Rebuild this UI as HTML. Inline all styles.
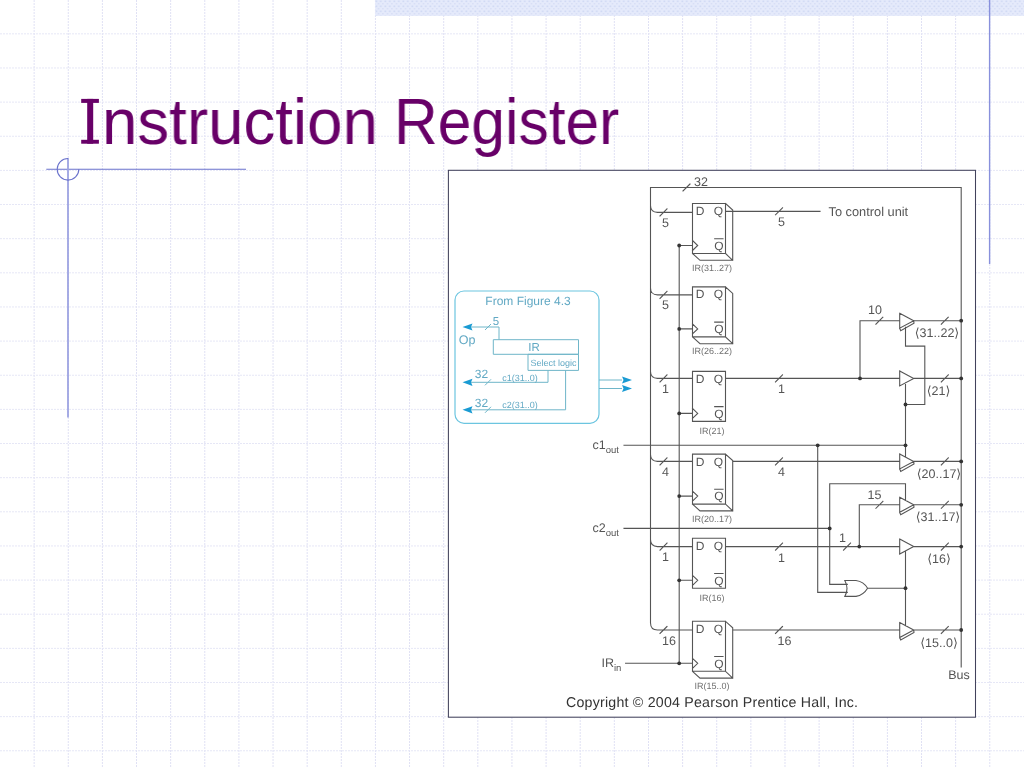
<!DOCTYPE html>
<html><head><meta charset="utf-8"><style>
html,body{margin:0;padding:0;background:#fff;width:1024px;height:768px;overflow:hidden}
svg{position:absolute;left:0;top:0;will-change:transform;text-rendering:geometricPrecision}
.title{will-change:transform}
.title{position:absolute;left:75px;top:90px;font-family:"Liberation Sans",sans-serif;font-size:64px;color:#680068;white-space:nowrap;line-height:1;transform-origin:0 0}
</style></head><body>
<svg width="1024" height="768" viewBox="0 0 1024 768" font-family="Liberation Sans, sans-serif">
<g stroke-width="1" stroke-dasharray="2 1"><line x1="34.13" y1="0" x2="34.13" y2="768" stroke="#e0e1f4"/><line x1="68.26" y1="0" x2="68.26" y2="768" stroke="#e0e1f4"/><line x1="102.39" y1="0" x2="102.39" y2="768" stroke="#e0e1f4"/><line x1="136.52" y1="0" x2="136.52" y2="768" stroke="#e0e1f4"/><line x1="170.65" y1="0" x2="170.65" y2="768" stroke="#e0e1f4"/><line x1="204.78" y1="0" x2="204.78" y2="768" stroke="#e0e1f4"/><line x1="238.91" y1="0" x2="238.91" y2="768" stroke="#e0e1f4"/><line x1="273.04" y1="0" x2="273.04" y2="768" stroke="#e0e1f4"/><line x1="307.17" y1="0" x2="307.17" y2="768" stroke="#e0e1f4"/><line x1="341.3" y1="0" x2="341.3" y2="768" stroke="#e0e1f4"/><line x1="375.43" y1="0" x2="375.43" y2="768" stroke="#e0e1f4"/><line x1="409.56" y1="0" x2="409.56" y2="768" stroke="#e0e1f4"/><line x1="443.69" y1="0" x2="443.69" y2="768" stroke="#e0e1f4"/><line x1="477.82" y1="0" x2="477.82" y2="768" stroke="#e0e1f4"/><line x1="511.95" y1="0" x2="511.95" y2="768" stroke="#e0e1f4"/><line x1="546.08" y1="0" x2="546.08" y2="768" stroke="#e0e1f4"/><line x1="580.21" y1="0" x2="580.21" y2="768" stroke="#e0e1f4"/><line x1="614.34" y1="0" x2="614.34" y2="768" stroke="#e0e1f4"/><line x1="648.47" y1="0" x2="648.47" y2="768" stroke="#e0e1f4"/><line x1="682.6" y1="0" x2="682.6" y2="768" stroke="#e0e1f4"/><line x1="716.73" y1="0" x2="716.73" y2="768" stroke="#e0e1f4"/><line x1="750.86" y1="0" x2="750.86" y2="768" stroke="#e0e1f4"/><line x1="784.99" y1="0" x2="784.99" y2="768" stroke="#e0e1f4"/><line x1="819.12" y1="0" x2="819.12" y2="768" stroke="#e0e1f4"/><line x1="853.25" y1="0" x2="853.25" y2="768" stroke="#e0e1f4"/><line x1="887.38" y1="0" x2="887.38" y2="768" stroke="#e0e1f4"/><line x1="921.51" y1="0" x2="921.51" y2="768" stroke="#e0e1f4"/><line x1="955.64" y1="0" x2="955.64" y2="768" stroke="#e0e1f4"/><line x1="989.77" y1="0" x2="989.77" y2="768" stroke="#e0e1f4"/><line x1="0" y1="33.84" x2="1024" y2="33.84" stroke="#e6e7f6"/><line x1="0" y1="67.98" x2="1024" y2="67.98" stroke="#e6e7f6"/><line x1="0" y1="102.12" x2="1024" y2="102.12" stroke="#e6e7f6"/><line x1="0" y1="136.26" x2="1024" y2="136.26" stroke="#e6e7f6"/><line x1="0" y1="170.4" x2="1024" y2="170.4" stroke="#e6e7f6"/><line x1="0" y1="204.54" x2="1024" y2="204.54" stroke="#e6e7f6"/><line x1="0" y1="238.68" x2="1024" y2="238.68" stroke="#e6e7f6"/><line x1="0" y1="272.82" x2="1024" y2="272.82" stroke="#e6e7f6"/><line x1="0" y1="306.96" x2="1024" y2="306.96" stroke="#e6e7f6"/><line x1="0" y1="341.1" x2="1024" y2="341.1" stroke="#e6e7f6"/><line x1="0" y1="375.24" x2="1024" y2="375.24" stroke="#e6e7f6"/><line x1="0" y1="409.38" x2="1024" y2="409.38" stroke="#e6e7f6"/><line x1="0" y1="443.52" x2="1024" y2="443.52" stroke="#e6e7f6"/><line x1="0" y1="477.66" x2="1024" y2="477.66" stroke="#e6e7f6"/><line x1="0" y1="511.8" x2="1024" y2="511.8" stroke="#e6e7f6"/><line x1="0" y1="545.94" x2="1024" y2="545.94" stroke="#e6e7f6"/><line x1="0" y1="580.08" x2="1024" y2="580.08" stroke="#e6e7f6"/><line x1="0" y1="614.22" x2="1024" y2="614.22" stroke="#e6e7f6"/><line x1="0" y1="648.36" x2="1024" y2="648.36" stroke="#e6e7f6"/><line x1="0" y1="682.5" x2="1024" y2="682.5" stroke="#e6e7f6"/><line x1="0" y1="716.64" x2="1024" y2="716.64" stroke="#e6e7f6"/><line x1="0" y1="750.78" x2="1024" y2="750.78" stroke="#e6e7f6"/></g>
<defs><pattern id="bp" x="375" y="0" width="4.5" height="5" patternUnits="userSpaceOnUse"><rect width="4.5" height="5" fill="#e5eafb"/><rect x="0.5" y="0.5" width="1.6" height="1.6" fill="#cfd8f3"/><rect x="2.7" y="3" width="1.4" height="1.4" fill="#d6ddf5"/></pattern></defs><rect x="375.2" y="0" width="649" height="15.9" fill="url(#bp)"/><line x1="989.6" y1="0" x2="989.6" y2="264" stroke="#8890dc" stroke-width="1.4"/><line x1="46.3" y1="169.3" x2="246" y2="169.3" stroke="#6a72cc" stroke-width="1.05"/><line x1="68" y1="158" x2="68" y2="417.5" stroke="#9ea4e2" stroke-width="1.8"/><path d="M68 158.5A10.8 10.8 0 1 0 78.8 169.3" fill="none" stroke="#6a72cc" stroke-width="1.05"/>
<rect x="448.4" y="170.3" width="527.1" height="546.9" fill="#fff" stroke="#42425c" stroke-width="1.05"/><path d="M650.5 187.5L961.2 187.5 M961.2 187.5L961.2 667 M683.0 191.0L690.0 184.0 M650.5 187.5L650.5 623.0 M650.5 205.4Q650.5 212.4 657.5 212.4L692.5 212.4 M660.0 215.9L667.0 208.9 M692.5 203.5L725.5 203.5 M725.5 203.5L725.5 253.5 M692.5 253.5L725.5 253.5 M692.5 203.5L692.5 253.5 M725.5 203.5L732.7 210.0L732.7 260.3L700.0 260.3L692.5 253.5 M725.5 253.5L732.7 260.3 M692.5 240.5L697.7 245.5L692.5 250.5 M679.2 245.5L692.5 245.5 M714.7 238.7L723.0 238.7 M650.5 287.9Q650.5 294.9 657.5 294.9L692.5 294.9 M660.0 298.4L667.0 291.4 M692.5 286.9L725.5 286.9 M725.5 286.9L725.5 336.9 M692.5 336.9L725.5 336.9 M692.5 286.9L692.5 336.9 M725.5 286.9L732.7 293.4L732.7 343.7L700.0 343.7L692.5 336.9 M725.5 336.9L732.7 343.7 M692.5 323.9L697.7 328.9L692.5 333.9 M679.2 328.9L692.5 328.9 M714.7 322.09999999999997L723.0 322.09999999999997 M650.5 371.4Q650.5 378.4 657.5 378.4L692.5 378.4 M660.0 381.9L667.0 374.9 M692.5 371.4L725.5 371.4 M725.5 371.4L725.5 421.4 M692.5 421.4L725.5 421.4 M692.5 371.4L692.5 421.4 M692.5 408.4L697.7 413.4L692.5 418.4 M679.2 413.4L692.5 413.4 M714.7 406.59999999999997L723.0 406.59999999999997 M650.5 454.4Q650.5 461.4 657.5 461.4L692.5 461.4 M660.0 464.9L667.0 457.9 M692.5 454.1L725.5 454.1 M725.5 454.1L725.5 504.1 M692.5 504.1L725.5 504.1 M692.5 454.1L692.5 504.1 M725.5 454.1L732.7 460.6L732.7 510.90000000000003L700.0 510.90000000000003L692.5 504.1 M725.5 504.1L732.7 510.90000000000003 M692.5 491.1L697.7 496.1L692.5 501.1 M679.2 496.1L692.5 496.1 M714.7 489.3L723.0 489.3 M650.5 539.6Q650.5 546.6 657.5 546.6L692.5 546.6 M660.0 550.1L667.0 543.1 M692.5 538.3L725.5 538.3 M725.5 538.3L725.5 588.3 M692.5 588.3L725.5 588.3 M692.5 538.3L692.5 588.3 M692.5 575.3L697.7 580.3L692.5 585.3 M679.2 580.3L692.5 580.3 M714.7 573.5L723.0 573.5 M650.5 623.0Q650.5 630.0 657.5 630.0L692.5 630.0 M660.0 633.5L667.0 626.5 M692.5 621.3L725.5 621.3 M725.5 621.3L725.5 671.3 M692.5 671.3L725.5 671.3 M692.5 621.3L692.5 671.3 M725.5 621.3L732.7 627.8L732.7 678.0999999999999L700.0 678.0999999999999L692.5 671.3 M725.5 671.3L732.7 678.0999999999999 M692.5 658.3L697.7 663.3L692.5 668.3 M679.2 663.3L692.5 663.3 M714.7 656.5L723.0 656.5 M679.2 245.5L679.2 663.3 M625.6 663.3L679.2 663.3 M725.5 211.4L820 211.4 M775.5 214.8L782.5 207.8 M725.5 378.4L899.7 378.4 M775.5 381.9L782.5 374.9 M913.7 378.4L961.2 378.4 M941.3 381.9L948.3 374.9 M899.7 370.9L913.7 378.4L899.7 385.9L899.7 370.9 M860 378.4L860 320.7L899.7 320.7 M875.9 324.2L882.9 317.2 M899.7 313.2L913.7 320.7L899.7 328.2L899.7 313.2 M899.7 328.2L900.7 330.7L914.0 323.2L913.7 320.7 M913.7 320.7L961.2 320.7 M941.3 324.2L948.3 317.2 M905.5 327.2L905.5 346.1L924.8 346.1L924.8 404.5L905.5 404.5 M905.5 382.8L905.5 457 M624 445.3L905.5 445.3 M732.7 461.4L899.7 461.4 M775.5 464.9L782.5 457.9 M899.7 453.9L913.7 461.4L899.7 468.9L899.7 453.9 M899.7 468.9L900.7 471.4L914.0 463.9L913.7 461.4 M913.7 461.4L961.2 461.4 M941.3 464.9L948.3 457.9 M899.7 497.3L913.7 504.8L899.7 512.3L899.7 497.3 M899.7 512.3L900.7 514.8L914.0 507.3L913.7 504.8 M913.7 504.8L961.2 504.8 M941.3 508.3L948.3 501.3 M859.3 546.6L859.3 504.8L899.7 504.8 M875.9 508.3L882.9 501.3 M905.5 500.4L905.5 483.7L829.7 483.7L829.7 584.4L847.3 584.4 M624 528.4L829.7 528.4 M817.7 445.3L817.7 592.4L847.3 592.4 M725.5 546.6L899.7 546.6 M775.5 550.1L782.5 543.1 M843.5 550.1L850.5 543.1 M899.7 539.1L913.7 546.6L899.7 554.1L899.7 539.1 M913.7 546.6L961.2 546.6 M941.3 550.1L948.3 543.1 M844.8 580.5L856 580.5Q863.5 581.5 867.6 588.2Q863.5 595 856 596.4L844.8 596.4Q849.2 588.4 844.8 580.5Z M867.6 588.2L905.5 588.2 M905.5 551L905.5 625.6 M732.7 630.0L899.7 630.0 M775.5 633.5L782.5 626.5 M899.7 622.5L913.7 630.0L899.7 637.5L899.7 622.5 M899.7 637.5L900.7 640.0L914.0 632.5L913.7 630.0 M913.7 630.0L961.2 630.0 M941.3 633.5L948.3 626.5" fill="none" stroke="#555" stroke-width="1.1" stroke-linejoin="miter" stroke-linecap="square"/><g fill="#333"><circle cx="679.2" cy="245.5" r="1.9"/><circle cx="679.2" cy="328.9" r="1.9"/><circle cx="679.2" cy="413.4" r="1.9"/><circle cx="679.2" cy="496.1" r="1.9"/><circle cx="679.2" cy="580.3" r="1.9"/><circle cx="679.2" cy="663.3" r="1.9"/><circle cx="961.2" cy="378.4" r="1.9"/><circle cx="860" cy="378.4" r="1.9"/><circle cx="961.2" cy="320.7" r="1.9"/><circle cx="905.5" cy="404.5" r="1.9"/><circle cx="905.5" cy="445.3" r="1.9"/><circle cx="817.7" cy="445.3" r="1.9"/><circle cx="961.2" cy="461.4" r="1.9"/><circle cx="961.2" cy="504.8" r="1.9"/><circle cx="859.3" cy="546.6" r="1.9"/><circle cx="829.7" cy="528.4" r="1.9"/><circle cx="961.2" cy="546.6" r="1.9"/><circle cx="905.5" cy="588.2" r="1.9"/><circle cx="961.2" cy="630.0" r="1.9"/></g><rect x="455" y="291" width="144" height="132.3" rx="9" fill="none" stroke="#6cc5e0" stroke-width="1.2"/><path d="M499 327L470 327M499 327L499 339.7 M493.3 339.7H578.5V354.3H493.3Z M528 354.3H578.5V370.4H528Z M548 370.4V382.3H470 M565.6 370.4V409.8H470 M599 380H622M599 388.5H622 M485 330L491 324M485 385.3L491 379.3M485 412.8L491 406.8" fill="none" stroke="#6fb6c9" stroke-width="1"/><path d="M462.5 327L472.5 323.4L471.0 327L472.5 330.6Z" fill="#1a9bd3"/><path d="M462.5 382.3L472.5 378.7L471.0 382.3L472.5 385.90000000000003Z" fill="#1a9bd3"/><path d="M462.5 409.8L472.5 406.2L471.0 409.8L472.5 413.40000000000003Z" fill="#1a9bd3"/><path d="M632 380L622 376.4L623.5 380L622 383.6Z" fill="#1a9bd3"/><path d="M632 388.5L622 384.9L623.5 388.5L622 392.1Z" fill="#1a9bd3"/><text x="528" y="304.5" font-size="12" text-anchor="middle" fill="#62a9c4">From Figure 4.3</text><text x="496" y="325.3" font-size="11.5" text-anchor="middle" fill="#62a9c4">5</text><text x="467" y="343.7" font-size="12.5" text-anchor="middle" fill="#62a9c4">Op</text><text x="534" y="351.4" font-size="11.5" text-anchor="middle" fill="#62a9c4">IR</text><text x="553.5" y="366" font-size="9" text-anchor="middle" fill="#62a9c4">Select logic</text><text x="481.5" y="377.8" font-size="12" text-anchor="middle" fill="#62a9c4">32</text><text x="481.5" y="406.9" font-size="12" text-anchor="middle" fill="#62a9c4">32</text><text x="520" y="381" font-size="9" text-anchor="middle" fill="#62a9c4">c1(31..0)</text><text x="520" y="407.5" font-size="9" text-anchor="middle" fill="#62a9c4">c2(31..0)</text><g font-family="Liberation Sans, sans-serif"><text x="694" y="185.6" font-size="12.5" text-anchor="start" fill="#555" >32</text><text x="665.5" y="226.9" font-size="12.5" text-anchor="middle" fill="#555" >5</text><text x="695.8" y="214.9" font-size="12" text-anchor="start" fill="#555" >D</text><text x="713.7" y="214.9" font-size="12" text-anchor="start" fill="#555" >Q</text><text x="714.2" y="249.7" font-size="12" text-anchor="start" fill="#555" >Q</text><text x="712.0" y="271.0" font-size="9" text-anchor="middle" fill="#707070" >IR(31..27)</text><text x="665.5" y="309.4" font-size="12.5" text-anchor="middle" fill="#555" >5</text><text x="695.8" y="298.29999999999995" font-size="12" text-anchor="start" fill="#555" >D</text><text x="713.7" y="298.29999999999995" font-size="12" text-anchor="start" fill="#555" >Q</text><text x="714.2" y="333.09999999999997" font-size="12" text-anchor="start" fill="#555" >Q</text><text x="712.0" y="354.4" font-size="9" text-anchor="middle" fill="#707070" >IR(26..22)</text><text x="665.5" y="392.9" font-size="12.5" text-anchor="middle" fill="#555" >1</text><text x="695.8" y="382.79999999999995" font-size="12" text-anchor="start" fill="#555" >D</text><text x="713.7" y="382.79999999999995" font-size="12" text-anchor="start" fill="#555" >Q</text><text x="714.2" y="417.59999999999997" font-size="12" text-anchor="start" fill="#555" >Q</text><text x="712.0" y="433.7" font-size="9" text-anchor="middle" fill="#707070" >IR(21)</text><text x="665.5" y="475.9" font-size="12.5" text-anchor="middle" fill="#555" >4</text><text x="695.8" y="465.5" font-size="12" text-anchor="start" fill="#555" >D</text><text x="713.7" y="465.5" font-size="12" text-anchor="start" fill="#555" >Q</text><text x="714.2" y="500.3" font-size="12" text-anchor="start" fill="#555" >Q</text><text x="712.0" y="521.6" font-size="9" text-anchor="middle" fill="#707070" >IR(20..17)</text><text x="665.5" y="561.1" font-size="12.5" text-anchor="middle" fill="#555" >1</text><text x="695.8" y="549.6999999999999" font-size="12" text-anchor="start" fill="#555" >D</text><text x="713.7" y="549.6999999999999" font-size="12" text-anchor="start" fill="#555" >Q</text><text x="714.2" y="584.5" font-size="12" text-anchor="start" fill="#555" >Q</text><text x="712.0" y="600.5999999999999" font-size="9" text-anchor="middle" fill="#707070" >IR(16)</text><text x="669" y="644.5" font-size="12.5" text-anchor="middle" fill="#555" >16</text><text x="695.8" y="632.6999999999999" font-size="12" text-anchor="start" fill="#555" >D</text><text x="713.7" y="632.6999999999999" font-size="12" text-anchor="start" fill="#555" >Q</text><text x="714.2" y="667.5" font-size="12" text-anchor="start" fill="#555" >Q</text><text x="712.0" y="688.8" font-size="9" text-anchor="middle" fill="#707070" >IR(15..0)</text><text x="781.5" y="226" font-size="12.5" text-anchor="middle" fill="#555" >5</text><text x="828.5" y="215.8" font-size="12.8" text-anchor="start" fill="#555" >To control unit</text><text x="781.5" y="393.4" font-size="12.5" text-anchor="middle" fill="#555" >1</text><text x="938.5" y="394.8" font-size="12.5" text-anchor="middle" fill="#555" >⟨21⟩</text><text x="875" y="314.4" font-size="12.5" text-anchor="middle" fill="#555" >10</text><text x="937" y="336.7" font-size="12.5" text-anchor="middle" fill="#555" >⟨31..22⟩</text><text x="781.5" y="475.9" font-size="12.5" text-anchor="middle" fill="#555" >4</text><text x="939" y="478" font-size="12.5" text-anchor="middle" fill="#555" >⟨20..17⟩</text><text x="938" y="521" font-size="12.5" text-anchor="middle" fill="#555" >⟨31..17⟩</text><text x="874.5" y="499" font-size="12.5" text-anchor="middle" fill="#555" >15</text><text x="781.5" y="561.6" font-size="12.5" text-anchor="middle" fill="#555" >1</text><text x="842.5" y="542" font-size="12.5" text-anchor="middle" fill="#555" >1</text><text x="939" y="563" font-size="12.5" text-anchor="middle" fill="#555" >⟨16⟩</text><text x="784.5" y="645.0" font-size="12.5" text-anchor="middle" fill="#555" >16</text><text x="939" y="646.5" font-size="12.5" text-anchor="middle" fill="#555" >⟨15..0⟩</text><text x="959" y="679.4" font-size="12.5" text-anchor="middle" fill="#555" >Bus</text><text x="592.5" y="448.5" font-size="12.5" text-anchor="start" fill="#555" >c1<tspan font-size="9.5" dy="4">out</tspan></text><text x="592.5" y="531.5" font-size="12.5" text-anchor="start" fill="#555" >c2<tspan font-size="9.5" dy="4">out</tspan></text><text x="601.5" y="667.3" font-size="12.5" text-anchor="start" fill="#555" >IR<tspan font-size="9.5" dy="4">in</tspan></text><text x="566" y="706.8" font-size="14.2" text-anchor="start" fill="#333" textLength="292" lengthAdjust="spacing">Copyright © 2004 Pearson Prentice Hall, Inc.</text></g>
</svg>
<svg width="1024" height="768" style="position:absolute;left:0;top:0"><g fill="#680068"><rect x="81.2" y="98.9" width="17.7" height="4"/><rect x="87.2" y="98.9" width="6" height="44.8"/><rect x="81.2" y="139.8" width="17.7" height="3.9"/></g></svg><div class="title" style="left:101.6px;transform:scaleX(0.994)">nstruction</div><div class="title" style="left:394.3px;transform:scaleX(0.945)">Register</div>
</body></html>
